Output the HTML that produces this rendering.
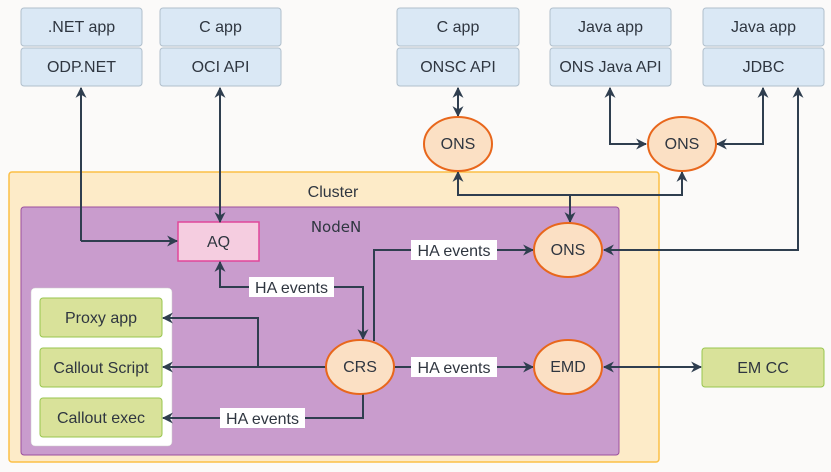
<!DOCTYPE html>
<html><head><meta charset="utf-8"><style>
html,body{margin:0;padding:0;background:#fbfaf9;}
svg{display:block;}
text{font-family:"Liberation Sans",Arial,sans-serif;font-size:16px;fill:#2f3640;}
</style></head><body>
<svg width="831" height="472" viewBox="0 0 831 472" xmlns="http://www.w3.org/2000/svg">
<defs>
<marker id="a" viewBox="0 0 10 10" refX="9" refY="5" markerWidth="11" markerHeight="11" orient="auto-start-reverse" markerUnits="userSpaceOnUse"><path d="M0,0 L10,5 L0,10 L3,5 z" fill="#2f3e4f"/></marker>
</defs>
<rect width="831" height="472" fill="#fbfaf9"/>
<g fill="#dae8f5" stroke="#b0bfcc" stroke-width="1">
<rect x="21" y="8" width="121" height="38" rx="3"/><rect x="21" y="48" width="121" height="38" rx="3"/>
<rect x="160" y="8" width="121" height="38" rx="3"/><rect x="160" y="48" width="121" height="38" rx="3"/>
<rect x="397" y="8" width="122" height="38" rx="3"/><rect x="397" y="48" width="122" height="38" rx="3"/>
<rect x="550" y="8" width="121" height="38" rx="3"/><rect x="550" y="48" width="121" height="38" rx="3"/>
<rect x="703" y="8" width="121" height="38" rx="3"/><rect x="703" y="48" width="121" height="38" rx="3"/>
</g>
<g text-anchor="middle">
<text x="81.5" y="32">.NET app</text><text x="81.5" y="72">ODP.NET</text>
<text x="220.5" y="32">C app</text><text x="220.5" y="72">OCI API</text>
<text x="458" y="32">C app</text><text x="458" y="72">ONSC API</text>
<text x="610.5" y="32">Java app</text><text x="610.5" y="72">ONS Java API</text>
<text x="763.5" y="32">Java app</text><text x="763.5" y="72">JDBC</text>
</g>
<rect x="9" y="172" width="650" height="290" rx="3" fill="#fdebc8" stroke="#fbbf45" stroke-width="1.5"/>
<text x="333" y="197" text-anchor="middle">Cluster</text>
<rect x="21" y="207" width="598" height="248" rx="3" fill="#c99ccd" stroke="#9b4f9e" stroke-width="1"/>
<text x="336" y="232" text-anchor="middle" style="font-family:'DejaVu Sans',sans-serif;font-size:15px">NodeN</text>
<rect x="178" y="222" width="81" height="39" fill="#f5cde0" stroke="#e0479a" stroke-width="1.5"/>
<text x="218.5" y="247" text-anchor="middle">AQ</text>
<rect x="31" y="288" width="141" height="158" rx="4" fill="#fff" stroke="#ccc" stroke-width="0.5"/>
<g fill="#d9e29a" stroke="#98c64e" stroke-width="1">
<rect x="40" y="298" width="122" height="39" rx="3"/><rect x="40" y="348" width="122" height="39" rx="3"/><rect x="40" y="398" width="122" height="39" rx="3"/>
<rect x="702" y="348" width="122" height="39" rx="3"/>
</g>
<g text-anchor="middle">
<text x="101" y="323">Proxy app</text><text x="101" y="373">Callout Script</text><text x="101" y="423">Callout exec</text>
<text x="763" y="373">EM CC</text>
</g>
<g fill="none" stroke="#2f3e4f" stroke-width="2">
<path d="M81,241 V88" marker-end="url(#a)"/>
<path d="M81,241 H177" marker-end="url(#a)"/>
<path d="M220,88 V222" marker-start="url(#a)" marker-end="url(#a)"/>
<path d="M363,339 V287 H220 V262" marker-start="url(#a)" marker-end="url(#a)"/>
<path d="M326,367 H163" marker-end="url(#a)"/>
<path d="M258,367 V318 H163" marker-end="url(#a)"/>
<path d="M363,394 V418 H163" marker-end="url(#a)"/>
<path d="M374,341 V250 H533" marker-end="url(#a)"/>
<path d="M394,367 H533" marker-end="url(#a)"/>
<path d="M458,88 V116" marker-start="url(#a)" marker-end="url(#a)"/>
<path d="M610,88 V144 H646" marker-start="url(#a)" marker-end="url(#a)"/>
<path d="M763,88 V144 H717" marker-start="url(#a)" marker-end="url(#a)"/>
<path d="M798,88 V250 H604" marker-start="url(#a)" marker-end="url(#a)"/>
<path d="M458,172 V195 H682 V172" marker-start="url(#a)" marker-end="url(#a)"/>
<path d="M570,195 V222" marker-end="url(#a)"/>
<path d="M604,367 H701" marker-start="url(#a)" marker-end="url(#a)"/>
</g>
<g>
<rect x="249" y="277" width="85" height="20" fill="#fff"/><text x="291.5" y="293" text-anchor="middle">HA events</text>
<rect x="220" y="408" width="85" height="20" fill="#fff"/><text x="262.5" y="424" text-anchor="middle">HA events</text>
<rect x="411" y="240" width="86" height="20" fill="#fff"/><text x="454" y="256" text-anchor="middle">HA events</text>
<rect x="411" y="357" width="86" height="20" fill="#fff"/><text x="454" y="373" text-anchor="middle">HA events</text>
</g>
<g fill="#fbe0c4" stroke="#e8671c" stroke-width="2">
<ellipse cx="360" cy="367" rx="34" ry="27"/>
<ellipse cx="568" cy="250" rx="34" ry="27"/>
<ellipse cx="568" cy="367" rx="34" ry="27"/>
<ellipse cx="458" cy="144" rx="34" ry="27"/>
<ellipse cx="682" cy="144" rx="34" ry="27"/>
</g>
<g text-anchor="middle">
<text x="360" y="372">CRS</text><text x="568" y="255">ONS</text><text x="568" y="372">EMD</text>
<text x="458" y="149">ONS</text><text x="682" y="149">ONS</text>
</g>
</svg>
</body></html>
